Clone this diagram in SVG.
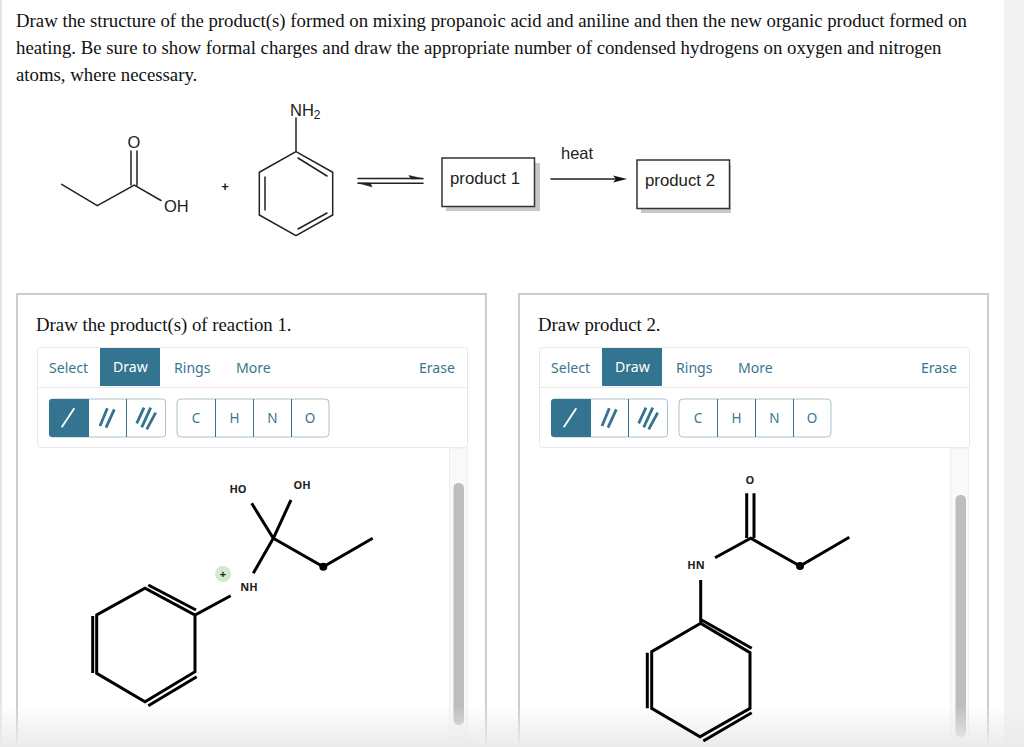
<svg xmlns="http://www.w3.org/2000/svg" width="1024" height="747" viewBox="0 0 1024 747">
<defs>
<linearGradient id="fade" x1="0" y1="0" x2="0" y2="1"><stop offset="0" stop-color="#ebebeb" stop-opacity="0"/><stop offset="1" stop-color="#ebebeb" stop-opacity="1"/></linearGradient>
</defs>
<style>
.q{font-family:"Liberation Serif",serif;font-size:18.8px;fill:#111}
.chem{font-family:"Liberation Sans",sans-serif;font-size:16.500px;fill:#222}
.prod{font-size:16.800px}
.b{stroke:#222;stroke-width:1.5;fill:none;stroke-linecap:round}
.d{stroke:#000;stroke-width:3;fill:none;stroke-linecap:butt}
.lab{font-family:"Open Sans","Noto Sans",sans-serif;font-size:11px;font-weight:700;fill:#222;text-anchor:middle}
.ui{font-family:"Noto Sans",sans-serif;font-size:14.100px;fill:#3a7590}
.atom{font-family:"Noto Sans",sans-serif;font-size:13.500px;fill:#3a7590;text-anchor:middle}
.panel{fill:#fff;stroke:#ccc;stroke-width:2}
.bar{fill:#fff;stroke:#e8e8e8;stroke-width:1}
.sep{stroke:#3a7590;stroke-width:1}
.btn{fill:#fff;stroke:#a9c3cf;stroke-width:1}
.tick{stroke:#337490;stroke-width:2.800;stroke-linecap:butt;fill:none}
</style>
<rect width="1024" height="747" fill="#fff"/>
<rect x="0" y="0" width="2" height="747" fill="#e6e6e6"/>
<rect x="1004" y="0" width="20" height="747" fill="#f2f2f2"/>
<g id="question">
<text class="q" x="16" y="27">Draw the structure of the product(s) formed on mixing propanoic acid and aniline and then the new organic product formed on</text>
<text class="q" x="16" y="54">heating. Be sure to show formal charges and draw the appropriate number of condensed hydrogens on oxygen and nitrogen</text>
<text class="q" x="16" y="81">atoms, where necessary.</text>
</g>
<g id="propanoic-acid">
<path class="b" d="M61.700 184.300L97.300 205.700L134.300 185L161 200.500M131 185V151M137 185V151"/>
<text class="chem" x="134" y="148" text-anchor="middle">O</text>
<text class="chem" x="164" y="212">OH</text>
</g>
<g id="plus"><text x="225" y="191" text-anchor="middle" style="font-family:'Liberation Sans',sans-serif;font-size:13px;font-weight:700;fill:#222">+</text></g>
<g id="aniline">
<path class="b" d="M296 151.700V118M296 151.700L332.700 172.300V215L296 235.700L259.300 215V172.300ZM298 158L327 176M265 177V210M298 229L327 213"/>
<text class="chem" x="290" y="116">NH<tspan font-size="12" dy="3">2</tspan></text>
</g>
<g id="product-1-box">
<rect x="446" y="163" width="94" height="48" fill="#c8c8c8"/>
<rect x="442" y="158" width="92.500" height="48.500" fill="#fff" stroke="#333" stroke-width="1.500"/>
<text class="chem prod" x="450" y="184">product 1</text>
</g>
<g id="product-2-box">
<rect x="641" y="165" width="90" height="48" fill="#c8c8c8"/>
<rect x="637" y="160" width="92.500" height="48.500" fill="#fff" stroke="#333" stroke-width="1.500"/>
<text class="chem prod" x="645" y="186">product 2</text>
</g>
<g id="connectors">
<path class="b" d="M358 178.500H423M358 183.300H423"/>
<path d="M423 178.800L409 175.500L411 178.800Z" fill="#222" stroke="#222" stroke-width=".6"/>
<path d="M358 183L372 186.800L370 183Z" fill="#222" stroke="#222" stroke-width=".6"/>
<path class="b" d="M551 179H616"/>
<path d="M627 179L613 175.500L616 179L613 182.500Z" fill="#111"/>
</g>
<text class="chem" x="561" y="159">heat</text>

<g id="panel-1">
<rect class="panel" x="17" y="294" width="469" height="470"/>
<text class="q" x="36" y="331">Draw the product(s) of reaction 1.</text>
<rect class="bar" x="37.500" y="347.500" width="430" height="100" rx="3"/>
<path d="M38 387.500H467" stroke="#e8e8e8"/>
<rect x="100" y="348" width="60" height="38" fill="#337490"/>
<text class="ui" x="49" y="373">Select</text>
<text class="ui" x="113" y="372" style="fill:#fff">Draw</text>
<text class="ui" x="174" y="373">Rings</text>
<text class="ui" x="236" y="373">More</text>
<text class="ui" x="419" y="373">Erase</text>
<rect class="btn" x="49.500" y="399" width="116" height="38" rx="3"/>
<path d="M52 399H89V437H52Q49 437 49 434V402Q49 399 52 399Z" fill="#337490"/>
<path d="M126.500 399V437" class="sep"/>
<path d="M61.700 427.300L74.300 408.300" stroke="#fff" stroke-width="1.800"/>
<path class="tick" d="M100 426L107.300 408.300M106 427.700L114.300 409.300"/>
<path class="tick" d="M136.700 423.300L144 407.700M141.700 427.300L150.700 407.700M146.700 429.300L155.700 412.700"/>
<rect class="btn" x="177" y="399" width="152" height="38" rx="4"/>
<path class="sep" d="M215.500 399V437M253.500 399V437M291.500 399V437"/>
<text class="atom" x="196" y="423">C</text><text class="atom" x="234.500" y="423">H</text><text class="atom" x="272.500" y="423">N</text><text class="atom" x="310" y="423">O</text>
<rect x="449.500" y="448" width="18" height="300" fill="#f9f9f9" stroke="#eee"/>
<rect x="453.500" y="483" width="10.500" height="242" rx="5" fill="#bdbdbd"/>
</g>

<g id="panel-2">
<rect class="panel" x="519" y="294" width="469" height="470"/>
<text class="q" x="538" y="331">Draw product 2.</text>
<rect class="bar" x="539.500" y="347.500" width="430" height="100" rx="3"/>
<path d="M540 387.500H969" stroke="#e8e8e8"/>
<rect x="602" y="348" width="60" height="38" fill="#337490"/>
<text class="ui" x="551" y="373">Select</text>
<text class="ui" x="615" y="372" style="fill:#fff">Draw</text>
<text class="ui" x="676" y="373">Rings</text>
<text class="ui" x="738" y="373">More</text>
<text class="ui" x="921" y="373">Erase</text>
<rect class="btn" x="551.500" y="399" width="116" height="38" rx="3"/>
<path d="M554 399H591V437H554Q551 437 551 434V402Q551 399 554 399Z" fill="#337490"/>
<path d="M628.500 399V437" class="sep"/>
<path d="M563.700 427.300L576.300 408.300" stroke="#fff" stroke-width="1.800"/>
<path class="tick" d="M602 426L609.300 408.300M608 427.700L616.300 409.300"/>
<path class="tick" d="M638.700 423.300L646 407.700M643.700 427.300L652.700 407.700M648.700 429.300L657.700 412.700"/>
<rect class="btn" x="679" y="399" width="152" height="38" rx="4"/>
<path class="sep" d="M717.500 399V437M755.500 399V437M793.500 399V437"/>
<text class="atom" x="698" y="423">C</text><text class="atom" x="736.500" y="423">H</text><text class="atom" x="774.500" y="423">N</text><text class="atom" x="812" y="423">O</text>
<rect x="950.500" y="448" width="18" height="300" fill="#f9f9f9" stroke="#eee"/>
<rect x="955.500" y="495" width="10.500" height="242" rx="5" fill="#bdbdbd"/>
</g>
<rect x="0" y="705" width="1024" height="42" fill="url(#fade)"/>
<g id="molecule-1">
<path class="d" d="M273.300 538.300L251.700 503.300M273.300 538.300L291 500M273.300 538.300L253.300 573.300M273.300 538.300L323.300 566.700L372.700 538.300"/>
<circle cx="323.300" cy="566.700" r="4" fill="#000"/>
<path class="d" d="M230.700 595.700L195 615L145 588.300L96.700 615V673.300L145 701.700L195 671.700V615M148.300 585L196 610M92.700 616V673M148.300 705.700L196.700 676.700"/>
<circle cx="223" cy="574" r="8" fill="#d3e8cf"/>
<text class="lab" x="223" y="578">+</text>
<text class="lab" x="238" y="493">HO</text>
<text class="lab" x="302" y="489">OH</text>
<text class="lab" x="249" y="591">NH</text>
</g>
<g id="molecule-2">
<path class="d" d="M746.700 538V493.300M754 538V493.300M715 557.700L750.700 538.300L800 566L849.300 537.300"/>
<circle cx="800" cy="566" r="4" fill="#000"/>
<path class="d" d="M700.700 580V623.300L750 652.700V708.300L700 736.700L651.700 708.300V651.700L700.700 623.300M701.700 620L751.700 648.300M647.300 652.700V708.300M703.300 741L751.700 712.700"/>
<text class="lab" x="750" y="484">O</text>
<text class="lab" x="696" y="569">HN</text>
</g>
</svg>
